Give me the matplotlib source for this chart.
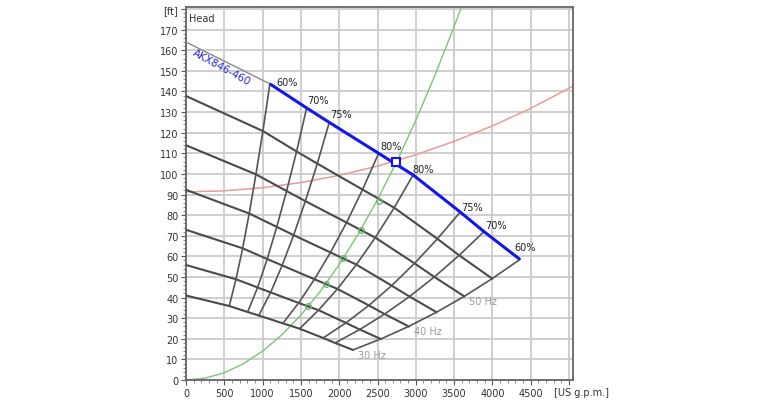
import matplotlib
matplotlib.use("Agg")
import matplotlib.pyplot as plt
from matplotlib.ticker import MultipleLocator

plt.rcParams['font.family'] = ['DejaVu Sans']

# ---------------- data ----------------
# node columns: shut-off, 60%, 70%, 75%, 80% (left), 80%, 75%, 70%, 60% (right)
speeds_hz = [60, 55, 50, 45, 40, 35, 30]

q60 = [0, 1095, 1575, 1870, 2515, 2965, 3580, 3890, 4360]
h60 = [164.0, 143.7, 132.0, 125.0, 110.0, 99.5, 81.5, 72.0, 58.5]
q55 = [0, 1004, 1444, 1714, 2305, 2718, 3282, 3566, 3997]
h55 = [137.8, 120.8, 110.9, 105.0, 92.4, 83.6, 68.5, 60.5, 49.2]
q50 = [0, 913, 1313, 1558, 2096, 2471, 2983, 3242, 3633]
h50 = [113.9, 99.8, 91.7, 86.8, 76.4, 69.1, 56.6, 50.0, 40.6]
q45 = [0, 825, 1185, 1405, 1886, 2224, 2685, 2918, 3270]
h45 = [92.3, 80.8, 74.3, 70.3, 61.9, 56.0, 45.8, 40.5, 32.9]
q40 = [0, 740, 1060, 1255, 1677, 1977, 2387, 2593, 2907]
h40 = [72.9, 63.9, 58.7, 55.6, 48.9, 44.2, 36.2, 32.0, 26.0]
q35 = [0, 652, 935, 1105, 1470, 1730, 2088, 2269, 2543]
h35 = [55.8, 48.9, 44.9, 42.5, 37.4, 33.9, 27.7, 24.5, 19.9]
q30 = [0, 565, 805, 950, 1265, 1483, 1790, 1945, 2180]
h30 = [41.0, 35.9, 33.0, 31.3, 27.5, 24.9, 20.4, 18.0, 14.6]

eff_labels = ['60%', '70%', '75%', '80%', '80%', '75%', '70%', '60%']
hz_labels = {50: '50 Hz', 40: '40 Hz', 30: '30 Hz'}
pump_name = 'AKX846-460'

# system curve (red) and BEP curve (green)
sys_flow = [0, 500, 1000, 1500, 2000, 2500, 3000, 3500, 4000, 4500, 5052]
sys_head = [91.3, 91.8, 93.3, 95.8, 99.3, 103.8, 109.3, 115.8, 123.3, 131.8, 142.6]
bep_curve_flow = [0, 250, 500, 750, 1000, 1250, 1500, 1750, 2000, 2250, 2500,
                  2750, 3000, 3250, 3500, 3600]
bep_curve_head = [0, 0.9, 3.5, 7.9, 14.0, 21.9, 31.5, 42.9, 56.0, 70.9, 87.5,
                  105.9, 126.0, 147.9, 171.5, 181.4]
bep_flow = [1588, 1823, 2045, 2280, 2515]
bep_head = [36.1, 46.6, 59.0, 73.0, 86.8]

op_flow = 2737
op_head = 105.6

x_ticks = list(range(0, 5001, 500))
y_ticks = list(range(0, 181, 10))

# ---------------- drawing ----------------
rows_q = [q60, q55, q50, q45, q40, q35, q30]
rows_h = [h60, h55, h50, h45, h40, h35, h30]

fig = plt.figure(figsize=(7.68, 4.02), dpi=100)
ax = fig.add_axes([186 / 768, 1 - 381 / 402, (573 - 186) / 768, (381 - 8) / 402])
ax.set_xlim(0, 5052)
ax.set_ylim(0, 181)

ax.set_xticks(x_ticks)
ax.set_xticklabels([str(v) if v < 5000 else '' for v in x_ticks])
ax.set_yticks(y_ticks)
ax.set_yticklabels([str(v) if v < 180 else '[ft]' for v in y_ticks])
ax.xaxis.set_minor_locator(MultipleLocator(100))
ax.yaxis.set_minor_locator(MultipleLocator(2))
ax.tick_params(which='major', length=3.5, width=0.8, color='#555555',
               labelsize=7, labelcolor='#333333', pad=2)
ax.tick_params(which='minor', length=2, width=0.6, color='#777777')
ax.grid(True, which='major', color='#cccccc', lw=1.3)
ax.set_axisbelow(True)
for s in ax.spines.values():
    s.set_color('#666666')
    s.set_linewidth(1.3)

ax.annotate('[US g.p.m.]', xy=(4804, 0), xycoords='data', xytext=(0, -12),
            textcoords='offset pixels', ha='left', va='center', fontsize=7,
            color='#333333', annotation_clip=False)
ax.text(0.008, 0.985, 'Head', transform=ax.transAxes, ha='left', va='top',
        fontsize=7, color='#333333')

# system curves
ax.plot(sys_flow, sys_head, color='#e99a9a', lw=1.1, zorder=2)
ax.plot(bep_curve_flow, bep_curve_head, color='#7cc47c', lw=1.0, zorder=2)

# speed curves
for hz, q, h in zip(speeds_hz, rows_q, rows_h):
    if hz == 60:
        ax.plot(q[:2], h[:2], color='#8a8a8a', lw=1.0, zorder=3)
        ax.plot(q[1:], h[1:], color='#1515ee', lw=2.2, zorder=5,
                solid_capstyle='butt')
    else:
        ax.plot(q, h, color='#4a4a4a', lw=1.5, zorder=3)

# iso-efficiency lines
for j in range(1, 9):
    ax.plot([r[j] for r in rows_q], [r[j] for r in rows_h],
            color='#555555', lw=1.2, zorder=3)

ax.plot(bep_flow, bep_head, 'o', ms=4, mfc='none', mec='#6bb56b', mew=1.0, zorder=4)
ax.plot([op_flow], [op_head], 's', ms=6, mfc='white', mec='#1515ee', mew=1.5, zorder=6)

# efficiency labels
label_offsets = [(17, 2), (11, 8), (12, 8), (12, 7), (10, 6), (12, 5), (12, 7), (5, 12)]
for j, (lab, off) in enumerate(zip(eff_labels, label_offsets), start=1):
    ax.annotate(lab, xy=(q60[j], h60[j]), xytext=off, textcoords='offset pixels',
                ha='center', va='center', fontsize=7, color='#222222', zorder=7)

# Hz labels
for hz, q, h in zip(speeds_hz, rows_q, rows_h):
    if hz in hz_labels:
        ax.annotate(hz_labels[hz], xy=(q[-1], h[-1]), xytext=(5, -5),
                    textcoords='offset pixels', ha='left', va='center',
                    fontsize=7, color='#9a9a9a')

# pump name along the top curve
ax.annotate(pump_name, xy=(460, 152.0), ha='center', va='center', rotation=-28.5,
            fontsize=7.5, color='#2222dd', rotation_mode='anchor')

fig.savefig('out.png', dpi=100)
